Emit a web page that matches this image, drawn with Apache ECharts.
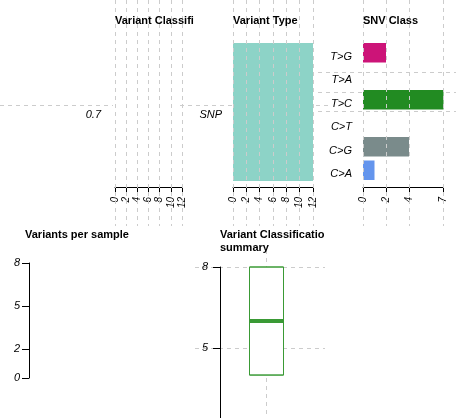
<!DOCTYPE html>
<html><head><meta charset="utf-8">
<script src="https://cdn.jsdelivr.net/npm/echarts@6/dist/echarts.min.js"></script>
<style>html,body{margin:0;padding:0;background:#fff}#c{width:456px;height:418px}</style>
</head><body><div id="c"></div>
<script>
// ---- data ----
const vcCats = ['0.7'];
const vcTicks = [0, 2, 4, 6, 8, 10, 12];
const vtCats = ['SNP'];
const vtVals = [12];
const vtTicks = [0, 2, 4, 6, 8, 10, 12];
const snvCats = ['C>A', 'C>G', 'C>T', 'T>C', 'T>A', 'T>G'];
const snvVals = [1, 4, 0, 7, 0, 2];
const snvColors = ['#6495ED', '#7A8B8B', '#FFC125', '#228B22', '#EE0000', '#CC1478'];
const snvTicks = [0, 2, 4, 7];
const vpsTicks = [0, 2, 5, 8];
const boxCats = ['Missense_Mutation'];
const boxStats = [[4, 4, 6, 8, 8]];
const boxTicks = [5, 8];

const FONT = '"Liberation Sans", Arial, sans-serif';
const GRIDC = '#cccccc';
const dash = { show: true, lineStyle: { color: GRIDC, type: [4, 4], width: 1 } };
const noSplit = { show: false };

function titleObj(text, left, top, width) {
  return {
    text: text, left: left, top: top, padding: 0,
    textStyle: { fontFamily: FONT, fontSize: 11, fontWeight: 'bold', color: '#000',
      width: width, overflow: 'truncate', ellipsis: '', lineHeight: 13 }
  };
}

const grids = [
  { left: 115, top: 41, width: 67, height: 141 },      // 0 VC
  { left: 233, top: 43, width: 80, height: 138 },      // 1 VT
  { left: 363, top: 41, width: 80.5, height: 141 },    // 2 SNV
  { left: 29, top: 263, width: 150, height: 115 },     // 3 VPS
  { left: 220, top: 267, width: 93, height: 151 },     // 4 box
  { left: 115, top: 0, width: 67, height: 226 },       // 5 deco VC vertical
  { left: 233, top: 0, width: 80, height: 226 },       // 6 deco VT vertical
  { left: 363, top: 0, width: 80.5, height: 226 },     // 7 deco SNV vertical
  { left: 0, top: 95, width: 113, height: 20 },        // 8 deco h 105 left
  { left: 180, top: 95, width: 150, height: 20 },      // 9 deco h 105 right
  { left: 318, top: 72, width: 138, height: 39.5 },    // 10 deco SNV horizontal
  { left: 195, top: 267, width: 130, height: 151 },    // 11 deco box horizontal
  { left: 220, top: 250, width: 93, height: 168 }      // 12 deco box vertical
];

const xLab = { fontFamily: FONT, fontSize: 10, fontStyle: 'italic', color: '#000', rotate: 90, margin: 10 };
const axLine = { show: true, onZero: false, lineStyle: { color: '#000', width: 1 } };
const axTick = (vals) => ({ show: true, length: 7, customValues: vals, lineStyle: { color: '#000' } });
const catLab = (m, pad) => ({ fontFamily: FONT, fontSize: 11, fontStyle: 'italic', color: '#000', margin: m,
  formatter: '{a|{value}}',
  rich: { a: { fontFamily: FONT, fontSize: 11, fontStyle: 'italic', color: '#000', padding: [pad, 0, 0, 0] } } });

const hiddenVal = (gi) => ({ type: 'value', gridIndex: gi, show: false, min: 0, max: 1 });

const xAxes = [
  { type: 'value', gridIndex: 0, min: 0, max: 12, offset: 5, axisLine: axLine, axisTick: axTick(vcTicks),
    axisLabel: Object.assign({ customValues: vcTicks }, xLab), splitLine: noSplit },
  { type: 'value', gridIndex: 1, min: 0, max: 12, offset: 6, axisLine: axLine, axisTick: axTick(vtTicks),
    axisLabel: Object.assign({ customValues: vtTicks }, xLab), splitLine: noSplit },
  { type: 'value', gridIndex: 2, min: 0, max: 7, offset: 5, axisLine: axLine, axisTick: axTick(snvTicks),
    axisLabel: Object.assign({ customValues: snvTicks }, xLab), splitLine: noSplit },
  { type: 'value', gridIndex: 3, show: false, min: 0, max: 1 },
  { type: 'category', gridIndex: 4, data: boxCats, show: false },
  { type: 'value', gridIndex: 5, min: 0, max: 12, z: 5, axisLine: { show: false }, axisLabel: { show: false },
    axisTick: { show: false, customValues: vcTicks }, splitLine: dash },
  { type: 'value', gridIndex: 6, min: 0, max: 12, z: 5, axisLine: { show: false }, axisLabel: { show: false },
    axisTick: { show: false, customValues: vtTicks }, splitLine: dash },
  { type: 'value', gridIndex: 7, min: 0, max: 7, z: 5, axisLine: { show: false }, axisLabel: { show: false },
    axisTick: { show: false, customValues: snvTicks }, splitLine: dash },
  hiddenVal(8), hiddenVal(9), hiddenVal(10), hiddenVal(11),
  { type: 'value', gridIndex: 12, min: 0, max: 2, interval: 1, axisLine: { show: false }, axisLabel: { show: false },
    axisTick: { show: false }, splitLine: Object.assign({ showMinLine: false, showMaxLine: false }, dash) }
];

const hDeco = (gi) => ({ type: 'value', gridIndex: gi, min: 0, max: 2, interval: 1, axisLine: { show: false },
  axisLabel: { show: false }, axisTick: { show: false }, splitLine: dash });

const yAxes = [
  { type: 'category', gridIndex: 0, data: vcCats, axisLine: { show: false }, axisTick: { show: false },
    axisLabel: catLab(14, 7) },
  { type: 'category', gridIndex: 1, data: vtCats, axisLine: { show: false }, axisTick: { show: false },
    axisLabel: catLab(11, 6) },
  { type: 'category', gridIndex: 2, data: snvCats, axisLine: { show: false }, axisTick: { show: false },
    axisLabel: catLab(11, 8) },
  { type: 'value', gridIndex: 3, min: 0, max: 8, axisLine: axLine, axisTick: axTick(vpsTicks),
    axisLabel: { customValues: vpsTicks, fontFamily: FONT, fontSize: 11, fontStyle: 'italic', color: '#000', margin: 9 },
    splitLine: noSplit },
  { type: 'value', gridIndex: 4, min: 2.41, max: 8, axisLine: axLine, axisTick: axTick(boxTicks),
    axisLabel: { customValues: boxTicks, fontFamily: FONT, fontSize: 11, fontStyle: 'italic', color: '#000', margin: 12 },
    splitLine: noSplit },
  hiddenVal(5), hiddenVal(6), hiddenVal(7),
  { type: 'value', gridIndex: 8, min: 0, max: 2, interval: 1, axisLine: { show: false }, axisLabel: { show: false },
    axisTick: { show: false }, splitLine: Object.assign({ showMinLine: false, showMaxLine: false }, dash) },
  { type: 'value', gridIndex: 9, min: 0, max: 2, interval: 1, axisLine: { show: false }, axisLabel: { show: false },
    axisTick: { show: false }, splitLine: Object.assign({ showMinLine: false, showMaxLine: false }, dash) },
  hDeco(10),
  { type: 'value', gridIndex: 11, min: 2.41, max: 8, axisLine: { show: false }, axisLabel: { show: false },
    axisTick: { show: false, customValues: boxTicks }, splitLine: dash },
  hiddenVal(12)
];

const option = {
  animation: false,
  backgroundColor: '#fff',
  title: [
    titleObj('Variant Classification', 115, 14, 83),
    titleObj('Variant Type', 233, 14, 120),
    titleObj('SNV Class', 363, 14, 100),
    titleObj('Variants per sample', 25, 228, 160),
    titleObj('Variant Classification\nsummary', 220, 228, 110)
  ],
  grid: grids,
  xAxis: xAxes,
  yAxis: yAxes,
  series: [
    { type: 'bar', xAxisIndex: 1, yAxisIndex: 1, data: vtVals, barCategoryGap: 0, barWidth: '100%',
      itemStyle: { color: '#8DD3C7' }, silent: true, z: 3 },
    { type: 'bar', xAxisIndex: 2, yAxisIndex: 2, barCategoryGap: '17%', silent: true, z: 3,
      data: snvVals.map((v, i) => ({ value: v, itemStyle: { color: snvColors[i] } })) },
    { type: 'boxplot', xAxisIndex: 4, yAxisIndex: 4, data: boxStats, boxWidth: [34, 34], silent: true, z: 3,
      itemStyle: { color: '#ffffff', borderColor: '#3A9A35', borderWidth: 1 } },
    { type: 'scatter', xAxisIndex: 4, yAxisIndex: 4, symbol: 'rect', symbolSize: [34, 4], silent: true, z: 4,
      data: boxStats.map((s, i) => [boxCats[i], s[2]]), itemStyle: { color: '#3A9A35', opacity: 1 } }
  ]
};

const chart = echarts.init(document.getElementById('c'), null, { renderer: 'canvas' });
chart.setOption(option);
</script>
</body></html>
